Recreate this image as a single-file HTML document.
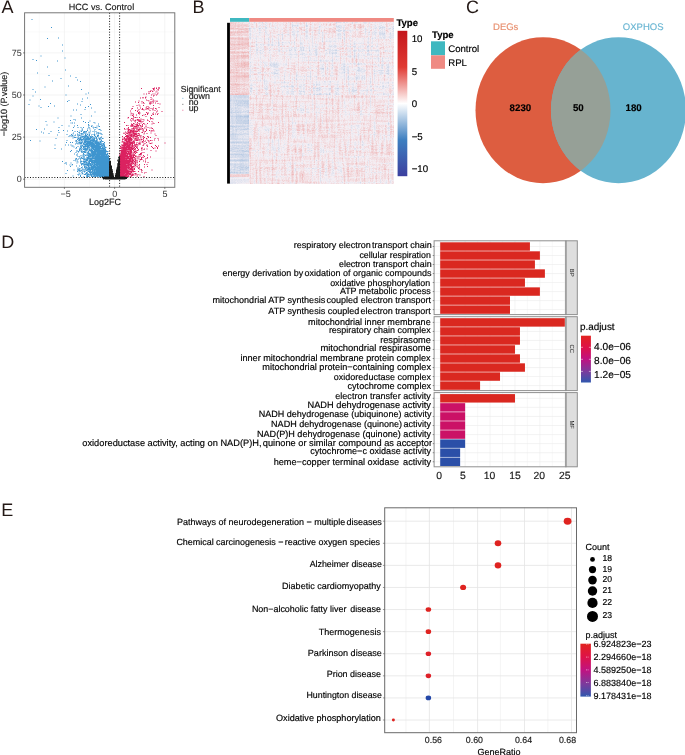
<!DOCTYPE html>
<html><head><meta charset="utf-8"><title>Figure</title><style>html,body{margin:0;padding:0;background:#fff}svg{display:block}</style></head><body>
<svg width="685" height="755" viewBox="0 0 685 755" text-rendering="geometricPrecision" font-family='"Liberation Sans", Arial, sans-serif'>
<rect width="685" height="755" fill="#fff"/>
<defs>
<linearGradient id="hmbar" x1="0" y1="0" x2="0" y2="1">
<stop offset="0" stop-color="#c4161c"/><stop offset="0.25" stop-color="#e03a33"/><stop offset="0.5" stop-color="#ffffff"/><stop offset="0.75" stop-color="#3d7fc0"/><stop offset="1" stop-color="#3c3f9f"/>
</linearGradient>
<linearGradient id="padj" x1="0" y1="0" x2="0" y2="1">
<stop offset="0" stop-color="#e2231f"/><stop offset="0.25" stop-color="#de1248"/><stop offset="0.5" stop-color="#c01281"/><stop offset="0.76" stop-color="#7c3a9c"/><stop offset="1" stop-color="#2f57ae"/>
</linearGradient>
</defs>
<text x="1.50" y="12.60" font-size="18" fill="#231815">A</text>
<text x="192.40" y="12.50" font-size="18" fill="#231815">B</text>
<text x="465.90" y="12.70" font-size="18" fill="#231815">C</text>
<text x="1.20" y="248.40" font-size="18" fill="#231815">D</text>
<text x="1.20" y="516.00" font-size="18" fill="#231815">E</text>
<g id="volcano">
<path d="M39.30 12.8V187.3M89.50 12.8V187.3M139.70 12.8V187.3M24.6 158.15H175.1M24.6 116.05H175.1M24.6 73.95H175.1M24.6 31.85H175.1" stroke="#f2f2f2" stroke-width="0.4" fill="none"/>
<path d="M64.40 12.8V187.3M114.60 12.8V187.3M164.80 12.8V187.3M24.6 179.20H175.1M24.6 137.10H175.1M24.6 95.00H175.1M24.6 52.90H175.1" stroke="#ebebeb" stroke-width="0.6" fill="none"/>
<path d="M78.5 173h1M86 173h2M91 173h19M77 171.5h1M79.5 171.5h1M82.5 171.5h1M84 171.5h1.5M88 171.5h2.5M91.5 171.5h1.5M94 171.5h1.5M96 171.5h14M81.5 172.5h1M86 172.5h1.5M89 172.5h3M92.5 172.5h17.5M79.5 168.5h1M85.5 168.5h1M88 168.5h2M90.5 168.5h3.5M94.5 168.5h15.5M75 144h1M77.5 144h1M79.5 144h1M81.5 144h1M83 144h2.5M87.5 144h2.5M90.5 144h3M94 144h1M95.5 144h3.5M99.5 144h3M73.5 147h1M80 147h2M84 147h2M87.5 147h3M91 147h10.5M104 147h1.5M73.5 170h1M78 170h2.5M82 170h4M88.5 170h1.5M91.5 170h18.5M83.5 154.5h1M87.5 154.5h1M89 154.5h2M91.5 154.5h16.5M76.5 143.5h1M79.5 143.5h2.5M83 143.5h1.5M85.5 143.5h8.5M94.5 143.5h6M101.5 143.5h1M103 143.5h1M77 171h1.5M79.5 171h1M87 171h2M89.5 171h1.5M92 171h18M64.5 163.5h1M81.5 163.5h2M85.5 163.5h1M87.5 163.5h3.5M92.5 163.5h1M94 163.5h1.5M96 163.5h14M86.5 153h3M91 153h15M106.5 153h1M81 167.5h1M84 167.5h1M85.5 167.5h1.5M87.5 167.5h1M89 167.5h1.5M91 167.5h19M75.5 161h1M77 161h1M80.5 161h1M85.5 161h1M87.5 161h1M89 161h3.5M93 161h17M78 175h1M89 175h1M90.5 175h3.5M94.5 175h1M96 175h1M97.5 175h12.5M75 160h1M80 160h1M85.5 160h1M87 160h1M88.5 160h1M90.5 160h1.5M94 160h15.5M80 139h1M83 139h4.5M88 139h5.5M94 139h1M96.5 139h1M75 159h1M78 159h1M80 159h1M83 159h1M84.5 159h2.5M89 159h1.5M91 159h5M96.5 159h12.5M78 152h1M81.5 152h5M87.5 152h1.5M90.5 152h3.5M94.5 152h1M96.5 152h6M103 152h3M76 158.5h1M79.5 158.5h1M81.5 158.5h1.5M83.5 158.5h1M87 158.5h23M77.5 168h1M85 168h1.5M87 168h2M90 168h4.5M95 168h15M81 158h1M83.5 158h1M86.5 158h1M88.5 158h3M92 158h3M95.5 158h13.5M76 166h1M79 166h1M84 166h2M86.5 166h1M90.5 166h2M93.5 166h2M96.5 166h13.5M71 150.5h1M79 150.5h1M85.5 150.5h1M89 150.5h4M94 150.5h12.5M80 176.5h1M87 176.5h2.5M91 176.5h1M92.5 176.5h1.5M94.5 176.5h2M97 176.5h1M98.5 176.5h11.5M83.5 165.5h1M87 165.5h2.5M90 165.5h2M93 165.5h2M95.5 165.5h2.5M98.5 165.5h11.5M79 157h1M80.5 157h1M82.5 157h2.5M88 157h2.5M92.5 157h16.5M82 167h1M88.5 167h1.5M90.5 167h2M93.5 167h16.5M67 170.5h1M78.5 170.5h1.5M80.5 170.5h1.5M86 170.5h1.5M89.5 170.5h1.5M92 170.5h1M93.5 170.5h2M96 170.5h14M54.5 148.5h1M75.5 148.5h1M80 148.5h1M82.5 148.5h1M84.5 148.5h1.5M86.5 148.5h1.5M91.5 148.5h2.5M95 148.5h10.5M62 161.5h1M80.5 161.5h1.5M82.5 161.5h4M88.5 161.5h5M94 161.5h16M80 175.5h1M86.5 175.5h2M90.5 175.5h1.5M93.5 175.5h1.5M95.5 175.5h14.5M69.5 165h1M71.5 165h1M81 165h1M86 165h4M90.5 165h2.5M93.5 165h16.5M73.5 160.5h1M83.5 160.5h1M85.5 160.5h2.5M89 160.5h21M65.5 162.5h1M83.5 162.5h1.5M85.5 162.5h2M88.5 162.5h1.5M91 162.5h18.5M79 174h1M80.5 174h1M82.5 174h1M85 174h4.5M90 174h1M92 174h1.5M94 174h16M76.5 159.5h1M83.5 159.5h2M86 159.5h2.5M89.5 159.5h3M95 159.5h15M77.5 169.5h1M86.5 169.5h6.5M93.5 169.5h16.5M76.5 143h1M78 143h1M79.5 143h1M83 143h1M86 143h4.5M91 143h1M92.5 143h2M95 143h3.5M104 143h1M70.5 163h1M76.5 163h1M80 163h1.5M83.5 163h1M85.5 163h2M88.5 163h1.5M91 163h4M96 163h14M39.5 141h1M75 141h1M81 141h2.5M84.5 141h2M87 141h2.5M90 141h1M91.5 141h6.5M54.5 145h1M65 145h1M68 145h1M70.5 145h1M80.5 145h1M83.5 145h2M86 145h1M87.5 145h1.5M89.5 145h1.5M91.5 145h8.5M100.5 145h1.5M104 145h1M70 166.5h1M84 166.5h1M85.5 166.5h1M88 166.5h1M91 166.5h5M96.5 166.5h13.5M81.5 172h1M84 172h1M90 172h20M70.5 123h1M72 123h1M74 123h1M94.5 123h1M77.5 169h1M79 169h1M81.5 169h2M84.5 169h1.5M86.5 169h1.5M89.5 169h1M91.5 169h18.5M61 149h1M79 149h1M81 149h1M83.5 149h1.5M86 149h2.5M89.5 149h1.5M91.5 149h9.5M101.5 149h1.5M103.5 149h1.5M74 154h1M77 154h1M83 154h1M88.5 154h5M94 154h3.5M98 154h8M107 154h1M76 151h2M79.5 151h1M81.5 151h1M84.5 151h2M88.5 151h1M91 151h2.5M94.5 151h2M97 151h9M76 155h1M82.5 155h2M85.5 155h9M95 155h12.5M66 164h1M81 164h1.5M83 164h2M86.5 164h1.5M88.5 164h1M91 164h2M93.5 164h16.5M77.5 146.5h1M80.5 146.5h1M83 146.5h6M90.5 146.5h10.5M101.5 146.5h1M103.5 146.5h1.5M77.5 174.5h1M84 174.5h2M87 174.5h2M89.5 174.5h2.5M92.5 174.5h17.5M65.5 173.5h1M82 173.5h1M85.5 173.5h1.5M90 173.5h1M92 173.5h18M79.5 148h1M84 148h1M85.5 148h1M88 148h2M91 148h7.5M99 148h2M102 148h2.5M30 140.5h1M66.5 140.5h1M76 140.5h1M78.5 140.5h2M81 140.5h1M84.5 140.5h2M90 140.5h5M95.5 140.5h1.5M101 140.5h1M77.5 162h1M80 162h1M84.5 162h1M88 162h2M91 162h6.5M98 162h12M78.5 156.5h1M88 156.5h3.5M92 156.5h2.5M95 156.5h13.5M80.5 150h2M84.5 150h4M89 150h1M91 150h1.5M93.5 150h9M103 150h2.5M81.5 145.5h1.5M85 145.5h1M86.5 145.5h3.5M90.5 145.5h9M101.5 145.5h2M104 145.5h1M72 164.5h1M81 164.5h1M82.5 164.5h1M84 164.5h5.5M90 164.5h1M91.5 164.5h2M94 164.5h16M76 147.5h1M81 147.5h1M83 147.5h1M87 147.5h1M88.5 147.5h1M91.5 147.5h9.5M102 147.5h1.5M104.5 147.5h2M72.5 176h1M86 176h1M94.5 176h4M99.5 176h10.5M75.5 152.5h1M81.5 152.5h1M84 152.5h2M87.5 152.5h1M91 152.5h5M96.5 152.5h9.5M83 177h1.5M86 177h1M92 177h1M94 177h1M99 177h1M102 177h8M83.5 144.5h4.5M88.5 144.5h6.5M96 144.5h5.5M102.5 144.5h2M81 157.5h1M86.5 157.5h2.5M91.5 157.5h2M94.5 157.5h14.5M80.5 155.5h1M85 155.5h1M87.5 155.5h2M90 155.5h5.5M96 155.5h4.5M101 155.5h4.5M106 155.5h1M108 155.5h1M48.5 133.5h1M80.5 133.5h2M98.5 133.5h1M100.5 133.5h1M70 151.5h1M78 151.5h1M81 151.5h1M83 151.5h2M88 151.5h1M90.5 151.5h18M79 149.5h1M80.5 149.5h1M83 149.5h4.5M89 149.5h1M90.5 149.5h1.5M93 149.5h7M101.5 149.5h1M103 149.5h1.5M105 149.5h1M66 142.5h1M70 142.5h1M72 142.5h1M79 142.5h1.5M81 142.5h1.5M84 142.5h2.5M87 142.5h6M94.5 142.5h5M100 142.5h1M104 142.5h1M78 140h1M81.5 140h1M83.5 140h6.5M92 140h3M96.5 140h1M99.5 140h1M58.5 132.5h1M78.5 132.5h1.5M83 132.5h1.5M97.5 132.5h1M58 130.5h1M63 130.5h1M72 130.5h1M81.5 130.5h1M87 130.5h1M100.5 130.5h1M83 153.5h1M87.5 153.5h2.5M90.5 153.5h1M92 153.5h4M96.5 153.5h9.5M107 153.5h1.5M69.5 135.5h1M72 135.5h1M74.5 135.5h1M78.5 135.5h2M85 135.5h2M89 135.5h1M94 135.5h1M97 135.5h2M76 142h1M78.5 142h2.5M82 142h1M84.5 142h1M87.5 142h4M92 142h3.5M97.5 142h4.5M73.5 137h1M78 137h1M81 137h1M82.5 137h1M84 137h5M90.5 137h1.5M93.5 137h1M95 137h1.5M98 137h1M101 137h1M57 135h1M75 135h1M77 135h1M80.5 135h2M85 135h1M87.5 135h1M91 135h1M94.5 135h1M76.5 141.5h1M84 141.5h7M91.5 141.5h1M93 141.5h1M94.5 141.5h3M100 141.5h1M101.5 141.5h2M74 137.5h2M76.5 137.5h1M80 137.5h1M81.5 137.5h1M84 137.5h1M85.5 137.5h1M87 137.5h2M90 137.5h2M92.5 137.5h1M96 137.5h1M100.5 137.5h1M77 156h1M82.5 156h2M86.5 156h1M89 156h1M90.5 156h18.5M71.5 146h2M80 146h1M81.5 146h1.5M85.5 146h1M89.5 146h2M92 146h2M95.5 146h5M101 146h3.5M68.5 136.5h1M80.5 136.5h1M82 136.5h2.5M85 136.5h1.5M87 136.5h1M90 136.5h1M91.5 136.5h1.5M95 136.5h1M97 136.5h1M66.5 134.5h1M71 134.5h1M78.5 134.5h1M85 134.5h1M87 134.5h1M89 134.5h1M92.5 134.5h1M94 134.5h1M101.5 134.5h1M55.5 138.5h1M77.5 138.5h1.5M79.5 138.5h2M83 138.5h1M84.5 138.5h1M86 138.5h5M92.5 138.5h1M94 138.5h1.5M96 138.5h1M98.5 138.5h2M102 138.5h1.5M72.5 138h1M78.5 138h2M82.5 138h1.5M84.5 138h1.5M88 138h2.5M92.5 138h1M94 138h1M99.5 138h2M41 132h1M83.5 132h1M85 132h1.5M88.5 132h1M43 133h1M73 133h1M79 133h1M84 133h1M85.5 133h1M88.5 133h2M94 133h1M96 133h1.5M98 133h1M99.5 133h1M77 139.5h1M79 139.5h4.5M84.5 139.5h6M91.5 139.5h1M93 139.5h2M96.5 139.5h1M99 139.5h1M100.5 139.5h1M72.5 134h1M77 134h1M81 134h3M85 134h1M86.5 134h1M96.5 134h1M98 134h1M100.5 134h1M50.5 131.5h1M74.5 131.5h1M77 131.5h1M81 131.5h1M83.5 131.5h1.5M85.5 131.5h1.5M92.5 131.5h1M95.5 131.5h1M70.5 136h3M77.5 136h1M83.5 136h2M86 136h1M88.5 136h1.5M97 136h1M61.5 125.5h1M77 125.5h1M88.5 125.5h1M91.5 125.5h1M67 131h1M79.5 131h1M90 131h1M94 131h1M44 129h1M81.5 129h1.5M87 129h1M89.5 129h1M58.5 127.5h1M73 127.5h1M77.5 127.5h1M80.5 127.5h1M83 127.5h1M88.5 127.5h1M94.5 127.5h2M82 130h1M68.5 126h1M74 126h1M88 126h1M96.5 126h1M98 126h1M46.5 125h1M85 122.5h1M88 122.5h1M93.5 122.5h1M62 45h1M67 101.5h1M81.5 101.5h1M65 70h1M47 38.5h1M64.5 58h1M40.5 107.5h1M85 107.5h1M47 67h1M32.5 89.5h1M81 89.5h1M38.5 106h1M54 106h1M32.5 96h1M40.5 56h1M62 51h1M82 99h1M36 60.5h1M45.5 121.5h1M83 121.5h1M37 73h1M32.5 59.5h1M87 98h1M80 105h1M51 27.5h1M28.5 104.5h1M90 104.5h1M65.5 95h1M52 81h1M73 110h1M76 110h1M77 80h1M68 86h1M31.5 19.5h1M57 61h1M58 38h1M60.5 78.5h1M44.5 87h1M80 81.5h1M40 99.5h1M88 124.5h1M70.5 116h1M91 116h1M75.5 77.5h1M35 92h1M91 108h1M77 104h1M48.5 75.5h1M70 120.5h1M85.5 94h1M36 129.5h1M94.5 129.5h1M98.5 129.5h2M75 120h1M88 93h1M53.5 122h1M57.5 118h1M81 118h1M68.5 100.5h1M88.5 128h1M93 128h1M96.5 128h1M91 126.5h1M99 126.5h1M80.5 114.5h1M73.5 119.5h1M70 76h1M98 124h1M29.5 100h1M92.5 127h1M84.5 109.5h1M48 106.5h1M88 106.5h1M94.5 112h1M50 103.5h1M89.5 121h1" stroke="#3f95cf" stroke-width="1" fill="none"/>
<path d="M119 167.5h11M131 167.5h2M119.5 155h8M129 155h6M138.5 155h1M140.5 155h1M147 155h1M119 159h8.5M129 159h1.5M132 159h1.5M135 159h1M138.5 159h1M145 159h1M120 156.5h12M133 156.5h1M135 156.5h1.5M137.5 156.5h1M139.5 156.5h1M144 156.5h1M119 168.5h8M127.5 168.5h2M130 168.5h2M134 168.5h1M138 168.5h1M121.5 147.5h10.5M132.5 147.5h1M134 147.5h1M136 147.5h1.5M152 147.5h1M157 147.5h1M119 162h10.5M130 162h2.5M133 162h1M137 162h1M145 162h1M122 151h5.5M129 151h1.5M131 151h1M136 151h1M155.5 151h1M119 172h10M129.5 172h2M132.5 172h1M121 153.5h10M135 153.5h1M140 153.5h2M119 170.5h9.5M132 170.5h1.5M141.5 170.5h1M119.5 167h9M130.5 167h3.5M134.5 167h1M137 167h1M139 167h1M144 167h1M119 165h11.5M131 165h1M133.5 165h2.5M136.5 165h1M119 170h13M132.5 170h1M151.5 170h1M120 160.5h11M132 160.5h2M135 160.5h1M136.5 160.5h1M121.5 149h6M128 149h1M129.5 149h2.5M133 149h1M134.5 149h1M144 149h1M146.5 149h1M119.5 163h11M131.5 163h1.5M133.5 163h2M122.5 149.5h8.5M131.5 149.5h1.5M134 149.5h1M138 149.5h1M143.5 149.5h1M119.5 157h10.5M130.5 157h2M138.5 157h1M142.5 157h1M150 157h1M119 176h10M129.5 176h1M136.5 176h1.5M119 169.5h8.5M129.5 169.5h3.5M134 169.5h1M139.5 169.5h1M141 169.5h1M119 166.5h8.5M128 166.5h1.5M130.5 166.5h4M136.5 166.5h1M147 166.5h1M119 174h10M129.5 174h2M132 174h1.5M135 174h2M119 163.5h10.5M130.5 163.5h2M133 163.5h1M135 163.5h1M119.5 150.5h7M127.5 150.5h1M130 150.5h2M133 150.5h1M137 150.5h1.5M150.5 150.5h1M119 177h8M130.5 177h1M130 131.5h1M131.5 131.5h3M135 131.5h3M144.5 131.5h1.5M120.5 154.5h5.5M127 154.5h1M128.5 154.5h2.5M133.5 154.5h1M139 154.5h2.5M119 161.5h14M134 161.5h1M135.5 161.5h1M139 161.5h1M119.5 154h11M131 154h1.5M133.5 154h1M121 148h5M126.5 148h1M128 148h3.5M133.5 148h1M141 148h2M154.5 148h1M119 166h9M129 166h2M120.5 152h6.5M128 152h3M132.5 152h1M121 150h6.5M128.5 150h3.5M134.5 150h1.5M141 150h1.5M131 118.5h1M132.5 118.5h1M150.5 118.5h2M119 172.5h10M131 172.5h1M141.5 172.5h1M145.5 172.5h1M119.5 171h8.5M128.5 171h1M131.5 171h1.5M141 171h1M122 145.5h4.5M127 145.5h3.5M131.5 145.5h2M134.5 145.5h1M142.5 145.5h1M146.5 145.5h1M155 145.5h1M119.5 158h8M128 158h1.5M130 158h1M131.5 158h1.5M135.5 158h1M137 158h1.5M119.5 158.5h13.5M134.5 158.5h1M141 158.5h1M146.5 158.5h1M119 156h9.5M129.5 156h1M131 156h2.5M135.5 156h1M123.5 142.5h2M126.5 142.5h2M129 142.5h4.5M134 142.5h1M136.5 142.5h1M142.5 142.5h1M146 142.5h1M119 175h8M128 175h1M131 175h1.5M133 175h1M134.5 175h1M139.5 175h1M119 174.5h5.5M125 174.5h3M129 174.5h2M132 174.5h1.5M137.5 174.5h1M123.5 133.5h1M126.5 133.5h1.5M129.5 133.5h1M132.5 133.5h4M137.5 133.5h1.5M146.5 133.5h1M122 139.5h1.5M124.5 139.5h3M128 139.5h4.5M135.5 139.5h1M138.5 139.5h1M141 139.5h1M142.5 139.5h1M119 173h6.5M126.5 173h5M144 173h1M122.5 141.5h1M126 141.5h4.5M133 141.5h1.5M142 141.5h1M143.5 141.5h1M120 147h2M122.5 147h4.5M128 147h1.5M132 147h1M136.5 147h1M119 175.5h8M127.5 175.5h1M131 175.5h2M119.5 159.5h6M126 159.5h1.5M128.5 159.5h2.5M131.5 159.5h1.5M134.5 159.5h1M140 159.5h2.5M119.5 153h1M121.5 153h8M130.5 153h2M133 153h1M135 153h1M119 165.5h10M129.5 165.5h2.5M135 165.5h1M138.5 165.5h1M119 173.5h6M125.5 173.5h5.5M134.5 173.5h1.5M124.5 140h1M126.5 140h1M128.5 140h3.5M134.5 140h1M137 140h1M139 140h1M140.5 140h1M154 140h1M158 140h1M137 119.5h1.5M142.5 119.5h1M119 160h8.5M128.5 160h2M131 160h1M132.5 160h1.5M134.5 160h1M136.5 160h1M139.5 160h1M121 152.5h6M128 152.5h1M129.5 152.5h2.5M134 152.5h1M136 152.5h1.5M141.5 152.5h1M143.5 152.5h1M119 176.5h10M130.5 176.5h1M143.5 176.5h1M119 171.5h13M132.5 171.5h3M138 171.5h1M119.5 169h7.5M128.5 169h5.5M120 146.5h1M123.5 146.5h1.5M126 146.5h4.5M131.5 146.5h2M135 146.5h1M136.5 146.5h1M147 146.5h1M151 146.5h1M156 146.5h1M128 132.5h3.5M132.5 132.5h1.5M141.5 132.5h1.5M119 162.5h11M131.5 162.5h1.5M135 162.5h1M136.5 162.5h1M147.5 162.5h1M125 132h1M127 132h2M129.5 132h3.5M134 132h1.5M119 164h9M128.5 164h3M136.5 164h1M124 138.5h1M125.5 138.5h1M127.5 138.5h4.5M135 138.5h1M143 138.5h1M146 138.5h1M154.5 138.5h1M157.5 138.5h1M138.5 109.5h1M141.5 109.5h2M145.5 109.5h1M119 164.5h7M127.5 164.5h3.5M131.5 164.5h1M134.5 164.5h1M139 164.5h1M144 164.5h1M146.5 164.5h1M119.5 168h10M130.5 168h2.5M138 168h2M127 137h4M132 137h2M135.5 137h1M140 137h1M141.5 137h1M123 143h8M132.5 143h2.5M138.5 143h2M151.5 143h1M164.5 143h1M130 126h4M137 126h2M140 126h1.5M142 126h1M119.5 155.5h8.5M129.5 155.5h2.5M133 155.5h2.5M143 155.5h1M123.5 143.5h5M129.5 143.5h4M138.5 143.5h2M144.5 143.5h1M149.5 143.5h2M127.5 135h1M129 135h6M135.5 135h1M137.5 135h1M139 135h1M120 148.5h1.5M122.5 148.5h4.5M127.5 148.5h3M131 148.5h3M135 148.5h1M137 148.5h1M141 148.5h1M153 148.5h1M157 148.5h1M127 136h2.5M130 136h2M133 136h2.5M137 136h1M139.5 136h1M122.5 139h1M125.5 139h7M134 139h1M135.5 139h3M140.5 139h1M146.5 139h1M126 135.5h2M128.5 135.5h1M130 135.5h2M132.5 135.5h2.5M136.5 135.5h3M140.5 135.5h1M155.5 135.5h1M126 125.5h1M127.5 125.5h1M131.5 125.5h1.5M136.5 125.5h2.5M140 125.5h1M121.5 142h2M124 142h1M125.5 142h1.5M128 142h1.5M132 142h1M133.5 142h1.5M139.5 142h1M141.5 142h1M148.5 142h1M122 146h7M130.5 146h2.5M133.5 146h2M158 146h1M119.5 161h10M130.5 161h3M135 161h1M143 161h1M145 161h1M122.5 138h1M126 138h2M128.5 138h3M133 138h1M134.5 138h1M136 138h1.5M138 138h1M123.5 144.5h4.5M128.5 144.5h3M132 144.5h1M134.5 144.5h1M136 144.5h1.5M139.5 144.5h1M124.5 140.5h2.5M127.5 140.5h2.5M130.5 140.5h1.5M134.5 140.5h1M136 140.5h2.5M143 140.5h1M147.5 140.5h1M150 140.5h1M151.5 140.5h1M121 151.5h5.5M127 151.5h2.5M130 151.5h2M134 151.5h2M126.5 129h2.5M132 129h1.5M134 129h1M136.5 129h1M139.5 129h2.5M142.5 129h1M122 136.5h1M125 136.5h4M131 136.5h1M132.5 136.5h1M134.5 136.5h3M143 136.5h1M147 136.5h1.5M131 130h1M133 130h2M136 130h1M142.5 130h1.5M153 130h1M122 141h1M125.5 141h1.5M128 141h4M132.5 141h1.5M145 141h1M148 141h1.5M128 128h1M133 128h1M135.5 128h1M137 128h1M138.5 128h2M144 128h1M145.5 128h1M149.5 128h1M151 128h1M124 137.5h1M127 137.5h1.5M129 137.5h2M137.5 137.5h1M143.5 137.5h1.5M148 137.5h1M150 137.5h1M119.5 157.5h6M126.5 157.5h2.5M130 157.5h5M141 157.5h1M142.5 157.5h1M147 157.5h1M127.5 131h3M131 131h2M134 131h2M137 131h1M138.5 131h1.5M142.5 131h1.5M150.5 131h2M153.5 131h1M130 120h1M132.5 120h1.5M135.5 120h1M137.5 120h2.5M140.5 120h1M143.5 120h1M147 120h1M121 145h4M125.5 145h5M132 145h1M134.5 145h4M143 145h1M146.5 145h1M123.5 144h7M134 144h1M136 144h1M138.5 144h1M143.5 144h1M123.5 133h1M125.5 133h1.5M128.5 133h2M132.5 133h1M134.5 133h1M136 133h1M144 133h1M150.5 133h1M149.5 104h1.5M159.5 104h1M131.5 126.5h1M134 126.5h3M142 126.5h1M145.5 126.5h1M124.5 129.5h1M128 129.5h2.5M137.5 129.5h3M146 129.5h1M131 121h1M134 121h1M138 121h3M135 127h2M137.5 127h1M141 127h1M128 134h1M129.5 134h1M131 134h1M134 134h1M135.5 134h1M139 134h1M143.5 134h1M154.5 134h1M135 122h1M141.5 122h1M131.5 124.5h1.5M135.5 124.5h1M137 124.5h1M142 124.5h1M125 134.5h1M129.5 134.5h1M131 134.5h1.5M133.5 134.5h3.5M145 114.5h1M147 114.5h1M153 114.5h1M157 114.5h1M130.5 113h1M139 113h1.5M147.5 113h1.5M153 113h1M128 130.5h1M130 130.5h2M132.5 130.5h1.5M138 130.5h1M146 130.5h1M149 130.5h1M151.5 130.5h1M140.5 123h1M152.5 123h1M139 121.5h2.5M142.5 121.5h1M149 121.5h1M151.5 121.5h1M137 108h1M140 108h1M145.5 108h1M153 108h1M131 109h1M147.5 109h2M152 109h1.5M156 109h1M135 120.5h1M137.5 120.5h1M139.5 120.5h1M147.5 120.5h1M124 122.5h1M137 122.5h1M158 122.5h1M133 123.5h1.5M138.5 123.5h1M143 123.5h1M147 123.5h1M153.5 123.5h1M130.5 115h1M132.5 115h1.5M136 115h1M143.5 115h1M131 125h1M133.5 125h1M135.5 125h1.5M139 125h1M142 125h1M145.5 125h1M131 124h1M136.5 124h1.5M139 124h1M144 124h1M151.5 124h1M128 117.5h1M133.5 117.5h1M135 117.5h1M136.5 117.5h1M139 117.5h1M150 117.5h1M128 127.5h1M133.5 127.5h1M147.5 127.5h1M132.5 119h1M140.5 119h1M150 119h1M152.5 119h1M124 128.5h1M131.5 128.5h1M133 128.5h1.5M135.5 128.5h1M142 128.5h1M152 128.5h1M132 115.5h1M142 115.5h1M151 115.5h1M133 116.5h1M145.5 116.5h1M137 111.5h1M161.5 111.5h1M143.5 103.5h1M149.5 103.5h1M157.5 103.5h1M127.5 118h1M132 108.5h1M142 108.5h1M146.5 108.5h2M150.5 108.5h1M155 108.5h1M141.5 103h1M149 103h3M152.5 103h1M155 103h1M138 112.5h1M146 112.5h1M143.5 94h1M146 94h1M152.5 94h1M154.5 94h1M157 94h1M153 89h1M151.5 99h1M141.5 101.5h1M151.5 101.5h1M156.5 101.5h1M152.5 91h1M156.5 91h1M142.5 97.5h1M145 97.5h1M150.5 97.5h1M145.5 97h1M148.5 91.5h1M150 91.5h1M152 91.5h1M140 98h1M142.5 98h1M145 98h1M139.5 106h1M135 102h1M150 102h1M153 102h1M155.5 92h1M135 110.5h1M137.5 110.5h1M149.5 110.5h1M154.5 110.5h1M150.5 90.5h1M138.5 105h1M132.5 106.5h1M147.5 106.5h1M136.5 105.5h1M143 105.5h1M153 105.5h1M153.5 95.5h1M131.5 113.5h1M138 113.5h1M147 113.5h1M157.5 113.5h1M141 88.5h1M152.5 88.5h2M156 88.5h1M158.5 88.5h1M146 107h1M154 90h1M158 90h1M138 102.5h1M143 102.5h1M153 89.5h1M157.5 89.5h1M151 95h1M156 95h1M154 88h1M156 88h1M158.5 88h1M139 112h1M156 112h1M133 114h1M139 114h1M152 114h1M155 114h1M138.5 101h1M148.5 101h1M152.5 101h1M154.5 101h1M156.5 101h1M143.5 110h1M152.5 110h1M148.5 107.5h1M158.5 107.5h1M148.5 93h1M157.5 93h1M146 100h1M153 100h1M148.5 93.5h1M150.5 99.5h1M147.5 100.5h1M130 111h1M157 111h1M158.5 87.5h1M153 96h1" stroke="#db2260" stroke-width="1" fill="none"/>
<path d="M103 179h1.5M105 179h20.5M102 177h1M104 177h10M115 177h10.5M109 172.5h3.5M116 172.5h4M109 175.5h4.5M115 175.5h5M109 176h5M115.5 176h4.5M103 178.5h24M109 176.5h5M115 176.5h5M102 177.5h12.5M115 177.5h12M109 171h3.5M116.5 171h3.5M102.5 178h23M126 178h1M109 169.5h3.5M116.5 169.5h3.5M109 171.5h4M116 171.5h4M109 174.5h4.5M115.5 174.5h4.5M109 175h4.5M115.5 175h4.5M109 173.5h4.5M115.5 173.5h4.5M109 169h3M116.5 169h3.5M109 174h4M115.5 174h4.5M109 167h3M117 167h3M109 170h3.5M116.5 170h3.5M109 168h2.5M116.5 168h3.5M109 172h4M116 172h4M109 167.5h3M117 167.5h3M109 170.5h3.5M116 170.5h4M109 168.5h3M117 168.5h3M109 173h4M116 173h4M109 166h2M117.5 166h2.5M109 163.5h2M117.5 163.5h2.5M109.5 161h1M117.5 161h2M109 164h1.5M117.5 164h2.5M109 166.5h3M117.5 166.5h2.5M110 162h1M118.5 162h1.5M109 165.5h2.5M117.5 165.5h2M109.5 161.5h1.5M118 161.5h2M109 165h1.5M117.5 165h2.5M109 162.5h2M118 162.5h1.5M109.5 164.5h1.5M117.5 164.5h2.5M109 163h2M118 163h2M109.5 158.5h1M119 158.5h1M119 159h1M118.5 157h1M117.5 160h2M117.5 160.5h1M119 160.5h1M118 158h2M118.5 159.5h1.5M118.5 157.5h1.5" stroke="#1a1a1a" stroke-width="1" fill="none"/>
<path d="M109.58 12.8V187.3M119.62 12.8V187.3M24.6 177.5H175.1" stroke="#111" stroke-width="1" stroke-dasharray="1 1.7" fill="none"/>
<rect x="24.6" y="12.8" width="150.2" height="174.5" fill="none" stroke="#707070" stroke-width="0.95"/>
<path d="M64.40 187.3v1.6M114.60 187.3v1.6M164.80 187.3v1.6M24.6 179.20h-1.6M24.6 137.10h-1.6M24.6 95.00h-1.6M24.6 52.90h-1.6" stroke="#333" stroke-width="0.6" fill="none"/>
<text x="65.60" y="197.00" font-size="9" text-anchor="middle" fill="#333">−5</text>
<text x="114.80" y="197.00" font-size="9" text-anchor="middle" fill="#333">0</text>
<text x="165.00" y="197.00" font-size="9" text-anchor="middle" fill="#333">5</text>
<text x="21.80" y="182.40" font-size="9" text-anchor="end" fill="#333">0</text>
<text x="21.80" y="140.30" font-size="9" text-anchor="end" fill="#333">25</text>
<text x="21.80" y="98.20" font-size="9" text-anchor="end" fill="#333">50</text>
<text x="21.80" y="56.10" font-size="9" text-anchor="end" fill="#333">75</text>
<text x="68.80" y="10.40" font-size="9.05" fill="#1a1a1a" stroke="#1a1a1a" stroke-width="0.16">HCC vs. Control</text>
<text x="105.00" y="204.90" font-size="9" text-anchor="middle" fill="#1a1a1a" stroke="#1a1a1a" stroke-width="0.16">Log2FC</text>
<text x="7.30" y="104.00" font-size="9" text-anchor="middle" fill="#1a1a1a" stroke="#1a1a1a" stroke-width="0.16" transform="rotate(-90 7.30 104.00)">−log10 (P.value)</text>
<text x="180.70" y="92.00" font-size="8.69" fill="#1a1a1a" stroke="#1a1a1a" stroke-width="0.16">Significant</text>
<rect x="182.4" y="97.85" width="0.9" height="0.9" fill="#3f95cf" opacity="0.8"/>
<text x="188.70" y="99.45" font-size="8.9" fill="#1a1a1a" stroke="#1a1a1a" stroke-width="0.16">down</text>
<rect x="182.4" y="103.85" width="0.9" height="0.9" fill="#1a1a1a" opacity="0.8"/>
<text x="188.70" y="105.10" font-size="8.9" fill="#1a1a1a" stroke="#1a1a1a" stroke-width="0.16">no</text>
<rect x="182.4" y="109.75" width="0.9" height="0.9" fill="#db2260" opacity="0.8"/>
<text x="188.70" y="111.30" font-size="8.9" fill="#1a1a1a" stroke="#1a1a1a" stroke-width="0.16">up</text>
</g>
<g id="heatmap">
<defs>
<filter id="h1" x="0" y="0" width="100%" height="100%" color-interpolation-filters="sRGB">
<feTurbulence type="fractalNoise" baseFrequency="0.03 0.5" numOctaves="1" seed="3"/>
<feColorMatrix type="matrix" values="1 0 0 0 0  1 0 0 0 0  1 0 0 0 0  0 0 0 0 1" result="a"/>
<feTurbulence type="fractalNoise" baseFrequency="0.85 0.95" numOctaves="1" seed="23"/>
<feColorMatrix type="matrix" values="1 0 0 0 0  1 0 0 0 0  1 0 0 0 0  0 0 0 0 1" result="b"/>
<feTurbulence type="fractalNoise" baseFrequency="0.5 0.04" numOctaves="1" seed="43"/>
<feColorMatrix type="matrix" values="1 0 0 0 0  1 0 0 0 0  1 0 0 0 0  0 0 0 0 1" result="c"/>
<feComposite in="a" in2="b" operator="arithmetic" k1="0" k2="0.85" k3="0.5" k4="-0.175" result="ab"/>
<feComposite in="ab" in2="c" operator="arithmetic" k1="0" k2="1" k3="0.3" k4="-0.15"/>
<feComponentTransfer><feFuncR type="table" tableValues="0.879 0.892 0.904 0.917 0.929 0.942 0.954 0.960 0.959 0.957 0.956 0.954 0.953 0.952 0.950 0.949 0.947 0.946 0.944 0.943 0.942 0.940 0.939 0.937 0.936 0.935 0.933 0.932 0.930 0.929 0.927 0.926 0.925"/><feFuncG type="table" tableValues="0.891 0.899 0.907 0.914 0.922 0.929 0.937 0.935 0.923 0.911 0.898 0.886 0.874 0.861 0.849 0.837 0.824 0.812 0.800 0.787 0.775 0.763 0.750 0.738 0.726 0.713 0.701 0.689 0.676 0.664 0.652 0.639 0.627"/><feFuncB type="table" tableValues="0.937 0.941 0.945 0.948 0.952 0.955 0.959 0.955 0.941 0.928 0.915 0.902 0.889 0.876 0.863 0.849 0.836 0.823 0.810 0.797 0.784 0.771 0.757 0.744 0.731 0.718 0.705 0.692 0.679 0.665 0.652 0.639 0.626"/></feComponentTransfer>
</filter>
<filter id="h2" x="0" y="0" width="100%" height="100%" color-interpolation-filters="sRGB">
<feTurbulence type="fractalNoise" baseFrequency="0.03 0.5" numOctaves="1" seed="4"/>
<feColorMatrix type="matrix" values="1 0 0 0 0  1 0 0 0 0  1 0 0 0 0  0 0 0 0 1" result="a"/>
<feTurbulence type="fractalNoise" baseFrequency="0.85 0.95" numOctaves="1" seed="24"/>
<feColorMatrix type="matrix" values="1 0 0 0 0  1 0 0 0 0  1 0 0 0 0  0 0 0 0 1" result="b"/>
<feTurbulence type="fractalNoise" baseFrequency="0.5 0.04" numOctaves="1" seed="44"/>
<feColorMatrix type="matrix" values="1 0 0 0 0  1 0 0 0 0  1 0 0 0 0  0 0 0 0 1" result="c"/>
<feComposite in="a" in2="b" operator="arithmetic" k1="0" k2="0.85" k3="0.5" k4="-0.175" result="ab"/>
<feComposite in="ab" in2="c" operator="arithmetic" k1="0" k2="1" k3="0.3" k4="-0.15"/>
<feComponentTransfer><feFuncR type="table" tableValues="0.637 0.649 0.662 0.674 0.687 0.699 0.711 0.724 0.736 0.749 0.761 0.774 0.786 0.799 0.811 0.824 0.836 0.849 0.861 0.874 0.886 0.898 0.911 0.923 0.936 0.948 0.961 0.959 0.958 0.957 0.955 0.954 0.952"/><feFuncG type="table" tableValues="0.742 0.750 0.757 0.765 0.773 0.780 0.788 0.796 0.803 0.811 0.819 0.826 0.834 0.842 0.849 0.857 0.865 0.872 0.880 0.888 0.895 0.903 0.911 0.918 0.926 0.934 0.941 0.929 0.916 0.904 0.892 0.880 0.867"/><feFuncB type="table" tableValues="0.867 0.871 0.875 0.878 0.882 0.885 0.889 0.893 0.896 0.900 0.903 0.907 0.911 0.914 0.918 0.921 0.925 0.928 0.932 0.936 0.939 0.943 0.946 0.950 0.954 0.957 0.961 0.948 0.934 0.921 0.908 0.895 0.882"/></feComponentTransfer>
</filter>
<filter id="h3" x="0" y="0" width="100%" height="100%" color-interpolation-filters="sRGB">
<feTurbulence type="fractalNoise" baseFrequency="0.03 0.5" numOctaves="1" seed="5"/>
<feColorMatrix type="matrix" values="1 0 0 0 0  1 0 0 0 0  1 0 0 0 0  0 0 0 0 1" result="a"/>
<feTurbulence type="fractalNoise" baseFrequency="0.85 0.95" numOctaves="1" seed="25"/>
<feColorMatrix type="matrix" values="1 0 0 0 0  1 0 0 0 0  1 0 0 0 0  0 0 0 0 1" result="b"/>
<feTurbulence type="fractalNoise" baseFrequency="0.5 0.04" numOctaves="1" seed="45"/>
<feColorMatrix type="matrix" values="1 0 0 0 0  1 0 0 0 0  1 0 0 0 0  0 0 0 0 1" result="c"/>
<feComposite in="a" in2="b" operator="arithmetic" k1="0" k2="0.85" k3="0.5" k4="-0.175" result="ab"/>
<feComposite in="ab" in2="c" operator="arithmetic" k1="0" k2="1" k3="0.3" k4="-0.15"/>
<feComponentTransfer><feFuncR type="table" tableValues="0.937 0.947 0.956 0.960 0.959 0.958 0.957 0.956 0.955 0.954 0.952 0.951 0.950 0.949 0.948 0.947 0.946 0.945 0.944 0.942 0.941 0.940 0.939 0.938 0.937 0.936 0.935 0.934 0.933 0.931 0.930 0.929 0.928"/><feFuncG type="table" tableValues="0.926 0.932 0.938 0.936 0.926 0.917 0.907 0.898 0.888 0.879 0.869 0.859 0.850 0.840 0.831 0.821 0.811 0.802 0.792 0.783 0.773 0.763 0.754 0.744 0.735 0.725 0.716 0.706 0.696 0.687 0.677 0.668 0.658"/><feFuncB type="table" tableValues="0.954 0.957 0.959 0.955 0.945 0.935 0.925 0.914 0.904 0.894 0.884 0.874 0.863 0.853 0.843 0.833 0.822 0.812 0.802 0.792 0.782 0.771 0.761 0.751 0.741 0.730 0.720 0.710 0.700 0.690 0.679 0.669 0.659"/></feComponentTransfer>
</filter>
<filter id="h4" x="0" y="0" width="100%" height="100%" color-interpolation-filters="sRGB">
<feTurbulence type="fractalNoise" baseFrequency="0.03 0.5" numOctaves="1" seed="6"/>
<feColorMatrix type="matrix" values="1 0 0 0 0  1 0 0 0 0  1 0 0 0 0  0 0 0 0 1" result="a"/>
<feTurbulence type="fractalNoise" baseFrequency="0.85 0.95" numOctaves="1" seed="26"/>
<feColorMatrix type="matrix" values="1 0 0 0 0  1 0 0 0 0  1 0 0 0 0  0 0 0 0 1" result="b"/>
<feTurbulence type="fractalNoise" baseFrequency="0.5 0.04" numOctaves="1" seed="46"/>
<feColorMatrix type="matrix" values="1 0 0 0 0  1 0 0 0 0  1 0 0 0 0  0 0 0 0 1" result="c"/>
<feComposite in="a" in2="b" operator="arithmetic" k1="0" k2="0.85" k3="0.5" k4="-0.175" result="ab"/>
<feComposite in="ab" in2="c" operator="arithmetic" k1="0" k2="1" k3="0.3" k4="-0.15"/>
<feComponentTransfer><feFuncR type="table" tableValues="0.747 0.756 0.766 0.776 0.785 0.795 0.805 0.814 0.824 0.834 0.844 0.853 0.863 0.873 0.882 0.892 0.902 0.911 0.921 0.931 0.941 0.950 0.960 0.960 0.959 0.958 0.956 0.955 0.954 0.953 0.952 0.951 0.950"/><feFuncG type="table" tableValues="0.810 0.816 0.822 0.828 0.833 0.839 0.845 0.851 0.857 0.863 0.869 0.875 0.881 0.887 0.893 0.899 0.905 0.911 0.917 0.923 0.929 0.935 0.941 0.932 0.923 0.913 0.904 0.894 0.884 0.875 0.865 0.856 0.846"/><feFuncB type="table" tableValues="0.899 0.902 0.905 0.907 0.910 0.913 0.916 0.919 0.921 0.924 0.927 0.930 0.933 0.935 0.938 0.941 0.944 0.947 0.949 0.952 0.955 0.958 0.961 0.951 0.941 0.931 0.921 0.911 0.900 0.890 0.880 0.870 0.859"/></feComponentTransfer>
</filter>
<filter id="h5" x="0" y="0" width="100%" height="100%" color-interpolation-filters="sRGB">
<feTurbulence type="fractalNoise" baseFrequency="0.5 0.05" numOctaves="1" seed="7"/>
<feColorMatrix type="matrix" values="1 0 0 0 0  1 0 0 0 0  1 0 0 0 0  0 0 0 0 1" result="a"/>
<feTurbulence type="fractalNoise" baseFrequency="0.85 0.95" numOctaves="1" seed="27"/>
<feColorMatrix type="matrix" values="1 0 0 0 0  1 0 0 0 0  1 0 0 0 0  0 0 0 0 1" result="b"/>
<feTurbulence type="fractalNoise" baseFrequency="0.035 0.5" numOctaves="1" seed="47"/>
<feColorMatrix type="matrix" values="1 0 0 0 0  1 0 0 0 0  1 0 0 0 0  0 0 0 0 1" result="c"/>
<feComposite in="a" in2="b" operator="arithmetic" k1="0" k2="0.85" k3="0.5" k4="-0.175" result="ab"/>
<feComposite in="ab" in2="c" operator="arithmetic" k1="0" k2="1" k3="0.55" k4="-0.275"/>
<feComponentTransfer><feFuncR type="table" tableValues="0.720 0.735 0.750 0.765 0.781 0.796 0.811 0.826 0.842 0.857 0.872 0.887 0.902 0.918 0.933 0.948 0.960 0.959 0.957 0.955 0.954 0.952 0.950 0.948 0.947 0.945 0.943 0.941 0.940 0.938 0.936 0.934 0.933"/><feFuncG type="table" tableValues="0.793 0.802 0.812 0.821 0.831 0.840 0.849 0.859 0.868 0.877 0.887 0.896 0.905 0.915 0.924 0.933 0.939 0.924 0.908 0.893 0.878 0.863 0.848 0.833 0.818 0.803 0.788 0.773 0.758 0.743 0.728 0.713 0.697"/><feFuncB type="table" tableValues="0.891 0.896 0.900 0.904 0.909 0.913 0.918 0.922 0.926 0.931 0.935 0.940 0.944 0.948 0.953 0.957 0.958 0.942 0.926 0.910 0.894 0.878 0.862 0.846 0.830 0.813 0.797 0.781 0.765 0.749 0.733 0.717 0.701"/></feComponentTransfer>
</filter>
<filter id="h6" x="0" y="0" width="100%" height="100%" color-interpolation-filters="sRGB">
<feTurbulence type="fractalNoise" baseFrequency="0.5 0.05" numOctaves="1" seed="8"/>
<feColorMatrix type="matrix" values="1 0 0 0 0  1 0 0 0 0  1 0 0 0 0  0 0 0 0 1" result="a"/>
<feTurbulence type="fractalNoise" baseFrequency="0.85 0.95" numOctaves="1" seed="28"/>
<feColorMatrix type="matrix" values="1 0 0 0 0  1 0 0 0 0  1 0 0 0 0  0 0 0 0 1" result="b"/>
<feTurbulence type="fractalNoise" baseFrequency="0.035 0.5" numOctaves="1" seed="48"/>
<feColorMatrix type="matrix" values="1 0 0 0 0  1 0 0 0 0  1 0 0 0 0  0 0 0 0 1" result="c"/>
<feComposite in="a" in2="b" operator="arithmetic" k1="0" k2="0.85" k3="0.5" k4="-0.175" result="ab"/>
<feComposite in="ab" in2="c" operator="arithmetic" k1="0" k2="1" k3="0.55" k4="-0.275"/>
<feComponentTransfer><feFuncR type="table" tableValues="0.779 0.792 0.806 0.820 0.834 0.848 0.862 0.875 0.889 0.903 0.917 0.931 0.945 0.959 0.959 0.958 0.956 0.955 0.953 0.952 0.950 0.948 0.947 0.945 0.944 0.942 0.940 0.939 0.937 0.936 0.934 0.933 0.931"/><feFuncG type="table" tableValues="0.829 0.838 0.846 0.855 0.863 0.872 0.880 0.889 0.897 0.906 0.914 0.923 0.931 0.940 0.930 0.916 0.902 0.889 0.875 0.861 0.847 0.834 0.820 0.806 0.793 0.779 0.765 0.752 0.738 0.724 0.710 0.697 0.683"/><feFuncB type="table" tableValues="0.908 0.912 0.916 0.920 0.924 0.928 0.932 0.936 0.940 0.944 0.948 0.952 0.956 0.960 0.948 0.934 0.919 0.905 0.890 0.875 0.861 0.846 0.832 0.817 0.802 0.788 0.773 0.759 0.744 0.729 0.715 0.700 0.686"/></feComponentTransfer>
</filter>
</defs>
<rect x="230.00" y="22.80" width="19.20" height="72.80" fill="#fff" filter="url(#h1)"/>
<rect x="230.00" y="95.60" width="19.20" height="79.20" fill="#fff" filter="url(#h2)"/>
<rect x="230.00" y="174.80" width="19.20" height="3.00" fill="#fff" filter="url(#h3)"/>
<rect x="230.00" y="177.80" width="19.20" height="5.80" fill="#fff" filter="url(#h4)"/>
<rect x="249.20" y="22.80" width="144.60" height="72.80" fill="#fff" filter="url(#h5)"/>
<rect x="249.20" y="95.60" width="144.60" height="88.00" fill="#fff" filter="url(#h6)"/>
<rect x="230.0" y="18" width="19.20" height="3.8" fill="#3fb8c0"/>
<rect x="249.2" y="18" width="144.60" height="3.8" fill="#ef8a83"/>
<rect x="227.1" y="22.8" width="2.8" height="160.80" fill="#000"/>
<text x="396.40" y="26.40" font-size="9.6" font-weight="bold" fill="#000" stroke="#000" stroke-width="0.16">Type</text>
<rect x="397.6" y="30.8" width="9.7" height="145.4" fill="url(#hmbar)"/>
<text x="411.70" y="42.15" font-size="9.7" fill="#000" stroke="#000" stroke-width="0.16">10</text>
<text x="411.70" y="74.65" font-size="9.7" fill="#000" stroke="#000" stroke-width="0.16">5</text>
<text x="411.70" y="107.15" font-size="9.7" fill="#000" stroke="#000" stroke-width="0.16">0</text>
<text x="411.70" y="139.65" font-size="9.7" fill="#000" stroke="#000" stroke-width="0.16">−5</text>
<text x="411.70" y="172.15" font-size="9.7" fill="#000" stroke="#000" stroke-width="0.16">−10</text>
<text x="432.00" y="37.70" font-size="9.6" font-weight="bold" fill="#000" stroke="#000" stroke-width="0.16">Type</text>
<rect x="431" y="41.3" width="14" height="14" fill="#3fb8c0"/>
<rect x="431" y="55.3" width="14" height="13.5" fill="#ef8a83"/>
<text x="448.20" y="51.70" font-size="9.65" fill="#000" stroke="#000" stroke-width="0.16">Control</text>
<text x="448.20" y="65.50" font-size="9.65" fill="#000" stroke="#000" stroke-width="0.16">RPL</text>
</g>
<g id="venn">
<ellipse cx="543" cy="110.2" rx="67.5" ry="73" fill="#dd5d40"/>
<ellipse cx="618.5" cy="110.2" rx="67.5" ry="73" fill="#67b4cf"/>
<clipPath id="vc"><ellipse cx="543" cy="110.2" rx="67.5" ry="73"/></clipPath>
<ellipse cx="618.5" cy="110.2" rx="67.5" ry="73" fill="#96a097" clip-path="url(#vc)"/>
<text x="505.70" y="30.20" font-size="9.5" text-anchor="middle" fill="#e8906f" stroke="#e8906f" stroke-width="0.16">DEGs</text>
<text x="643.20" y="30.20" font-size="9.5" text-anchor="middle" fill="#6bb6d3" stroke="#6bb6d3" stroke-width="0.16">OXPHOS</text>
<text x="520.40" y="111.40" font-size="9.7" text-anchor="middle" font-weight="bold" fill="#000" stroke="#000" stroke-width="0.16">8230</text>
<text x="578.30" y="111.40" font-size="9.7" text-anchor="middle" font-weight="bold" fill="#000" stroke="#000" stroke-width="0.16">50</text>
<text x="633.60" y="111.40" font-size="9.7" text-anchor="middle" font-weight="bold" fill="#000" stroke="#000" stroke-width="0.16">180</text>
</g>
<g id="go">
<path d="M452.66 240.8V314.6M477.59 240.8V314.6M502.51 240.8V314.6M527.44 240.8V314.6M552.36 240.8V314.6" stroke="#f0f0f0" stroke-width="0.4" fill="none"/>
<path d="M440.20 240.8V314.6M465.12 240.8V314.6M490.05 240.8V314.6M514.98 240.8V314.6M539.90 240.8V314.6M564.83 240.8V314.6M434.1 246.51H565.9M434.1 255.52H565.9M434.1 264.53H565.9M434.1 273.54H565.9M434.1 282.56H565.9M434.1 291.57H565.9M434.1 300.58H565.9M434.1 309.59H565.9" stroke="#ebebeb" stroke-width="0.6" fill="none"/>
<rect x="440.2" y="242.30" width="89.73" height="8.41" fill="#da2820"/>
<rect x="440.2" y="251.31" width="99.70" height="8.41" fill="#da2820"/>
<rect x="440.2" y="260.32" width="94.72" height="8.41" fill="#da2820"/>
<rect x="440.2" y="269.34" width="104.69" height="8.41" fill="#da2820"/>
<rect x="440.2" y="278.35" width="84.75" height="8.41" fill="#da2820"/>
<rect x="440.2" y="287.36" width="99.70" height="8.41" fill="#da2820"/>
<rect x="440.2" y="296.38" width="69.79" height="8.41" fill="#da2820"/>
<rect x="440.2" y="305.39" width="69.79" height="8.41" fill="#da2820"/>
<rect x="565.9" y="240.8" width="11.40" height="73.80" fill="#dedede" stroke="#8f8f8f" stroke-width="1"/>
<rect x="434.1" y="240.8" width="131.80" height="73.80" fill="none" stroke="#8f8f8f" stroke-width="1"/>
<text x="571.80" y="272.70" font-size="5.9" text-anchor="middle" fill="#1a1a1a" transform="rotate(90 571.80 272.70)" dy="2.1">BP</text>
<path d="M434.1 246.51h-1.4M434.1 255.52h-1.4M434.1 264.53h-1.4M434.1 273.54h-1.4M434.1 282.56h-1.4M434.1 291.57h-1.4M434.1 300.58h-1.4M434.1 309.59h-1.4" stroke="#333" stroke-width="0.5" fill="none"/>
<path d="M452.66 316.7V390.6M477.59 316.7V390.6M502.51 316.7V390.6M527.44 316.7V390.6M552.36 316.7V390.6" stroke="#f0f0f0" stroke-width="0.4" fill="none"/>
<path d="M440.20 316.7V390.6M465.12 316.7V390.6M490.05 316.7V390.6M514.98 316.7V390.6M539.90 316.7V390.6M564.83 316.7V390.6M434.1 322.41H565.9M434.1 331.44H565.9M434.1 340.46H565.9M434.1 349.49H565.9M434.1 358.51H565.9M434.1 367.54H565.9M434.1 376.56H565.9M434.1 385.59H565.9" stroke="#ebebeb" stroke-width="0.6" fill="none"/>
<rect x="440.2" y="318.20" width="124.63" height="8.43" fill="#da2820"/>
<rect x="440.2" y="327.22" width="79.76" height="8.43" fill="#da2820"/>
<rect x="440.2" y="336.25" width="79.76" height="8.43" fill="#da2820"/>
<rect x="440.2" y="345.27" width="74.78" height="8.43" fill="#da2820"/>
<rect x="440.2" y="354.30" width="79.76" height="8.43" fill="#da2820"/>
<rect x="440.2" y="363.32" width="84.75" height="8.43" fill="#da2820"/>
<rect x="440.2" y="372.35" width="59.82" height="8.43" fill="#da2820"/>
<rect x="440.2" y="381.38" width="39.88" height="8.43" fill="#da2820"/>
<rect x="565.9" y="316.7" width="11.40" height="73.90" fill="#dedede" stroke="#8f8f8f" stroke-width="1"/>
<rect x="434.1" y="316.7" width="131.80" height="73.90" fill="none" stroke="#8f8f8f" stroke-width="1"/>
<text x="571.80" y="348.65" font-size="5.9" text-anchor="middle" fill="#1a1a1a" transform="rotate(90 571.80 348.65)" dy="2.1">CC</text>
<path d="M434.1 322.41h-1.4M434.1 331.44h-1.4M434.1 340.46h-1.4M434.1 349.49h-1.4M434.1 358.51h-1.4M434.1 367.54h-1.4M434.1 376.56h-1.4M434.1 385.59h-1.4" stroke="#333" stroke-width="0.5" fill="none"/>
<path d="M452.66 392.6V466.8M477.59 392.6V466.8M502.51 392.6V466.8M527.44 392.6V466.8M552.36 392.6V466.8" stroke="#f0f0f0" stroke-width="0.4" fill="none"/>
<path d="M440.20 392.6V466.8M465.12 392.6V466.8M490.05 392.6V466.8M514.98 392.6V466.8M539.90 392.6V466.8M564.83 392.6V466.8M434.1 398.33H565.9M434.1 407.39H565.9M434.1 416.46H565.9M434.1 425.52H565.9M434.1 434.58H565.9M434.1 443.64H565.9M434.1 452.71H565.9M434.1 461.77H565.9" stroke="#ebebeb" stroke-width="0.6" fill="none"/>
<rect x="440.2" y="394.10" width="74.78" height="8.46" fill="#da2820"/>
<rect x="440.2" y="403.16" width="24.93" height="8.46" fill="#cb1166"/>
<rect x="440.2" y="412.23" width="24.93" height="8.46" fill="#cb1166"/>
<rect x="440.2" y="421.29" width="24.93" height="8.46" fill="#cb1166"/>
<rect x="440.2" y="430.35" width="24.93" height="8.46" fill="#cb1166"/>
<rect x="440.2" y="439.41" width="24.93" height="8.46" fill="#2b4fa8"/>
<rect x="440.2" y="448.48" width="19.94" height="8.46" fill="#2b4fa8"/>
<rect x="440.2" y="457.54" width="19.94" height="8.46" fill="#2b4fa8"/>
<rect x="565.9" y="392.6" width="11.40" height="74.20" fill="#dedede" stroke="#8f8f8f" stroke-width="1"/>
<rect x="434.1" y="392.6" width="131.80" height="74.20" fill="none" stroke="#8f8f8f" stroke-width="1"/>
<text x="571.80" y="424.70" font-size="5.9" text-anchor="middle" fill="#1a1a1a" transform="rotate(90 571.80 424.70)" dy="2.1">MF</text>
<path d="M434.1 398.33h-1.4M434.1 407.39h-1.4M434.1 416.46h-1.4M434.1 425.52h-1.4M434.1 434.58h-1.4M434.1 443.64h-1.4M434.1 452.71h-1.4M434.1 461.77h-1.4" stroke="#333" stroke-width="0.5" fill="none"/>
<text x="439.20" y="478.50" font-size="10.4" text-anchor="middle" fill="#1a1a1a" stroke="#1a1a1a" stroke-width="0.16">0</text>
<text x="463.00" y="478.50" font-size="10.4" text-anchor="middle" fill="#1a1a1a" stroke="#1a1a1a" stroke-width="0.16">5</text>
<text x="489.50" y="478.50" font-size="10.4" text-anchor="middle" fill="#1a1a1a" stroke="#1a1a1a" stroke-width="0.16">10</text>
<text x="515.00" y="478.50" font-size="10.4" text-anchor="middle" fill="#1a1a1a" stroke="#1a1a1a" stroke-width="0.16">15</text>
<text x="539.30" y="478.50" font-size="10.4" text-anchor="middle" fill="#1a1a1a" stroke="#1a1a1a" stroke-width="0.16">20</text>
<text x="564.80" y="478.50" font-size="10.4" text-anchor="middle" fill="#1a1a1a" stroke="#1a1a1a" stroke-width="0.16">25</text>
<text x="293.70" y="247.55" font-size="9.03" fill="#000" stroke="#000" stroke-width="0.16">respiratory electron <tspan dx="-1.26">transport chain</tspan></text>
<text x="359.40" y="257.55" font-size="8.81" fill="#000" stroke="#000" stroke-width="0.16">cellular respiration</text>
<text x="339.00" y="266.65" font-size="8.87" fill="#000" stroke="#000" stroke-width="0.16">electron transport chain</text>
<text x="222.40" y="276.15" font-size="8.99" fill="#000" stroke="#000" stroke-width="0.16">energy derivation by <tspan dx="-1.26">oxidation of organic compounds</tspan></text>
<text x="330.20" y="285.55" font-size="8.87" fill="#000" stroke="#000" stroke-width="0.16">oxidative phosphorylation</text>
<text x="339.90" y="294.45" font-size="8.91" fill="#000" stroke="#000" stroke-width="0.16">ATP metabolic process</text>
<text x="212.40" y="303.25" font-size="9.05" fill="#000" stroke="#000" stroke-width="0.16">mitochondrial ATP synthesis <tspan dx="-1.27">coupled electron transport</tspan></text>
<text x="268.30" y="313.85" font-size="9.04" fill="#000" stroke="#000" stroke-width="0.16">ATP synthesis coupled <tspan dx="-1.27">electron transport</tspan></text>
<text x="308.10" y="324.65" font-size="9.09" fill="#000" stroke="#000" stroke-width="0.16">mitochondrial inner membrane</text>
<text x="328.90" y="332.95" font-size="8.95" fill="#000" stroke="#000" stroke-width="0.16">respiratory chain complex</text>
<text x="380.20" y="342.55" font-size="9.21" fill="#000" stroke="#000" stroke-width="0.16">respirasome</text>
<text x="320.40" y="350.65" font-size="9.42" fill="#000" stroke="#000" stroke-width="0.16">mitochondrial respirasome</text>
<text x="240.40" y="361.25" font-size="9.15" fill="#000" stroke="#000" stroke-width="0.16">inner mitochondrial membrane protein complex</text>
<text x="262.30" y="370.15" font-size="9.16" fill="#000" stroke="#000" stroke-width="0.16">mitochondrial protein−containing complex</text>
<text x="333.80" y="380.35" font-size="9.02" fill="#000" stroke="#000" stroke-width="0.16">oxidoreductase complex</text>
<text x="347.50" y="389.25" font-size="9.12" fill="#000" stroke="#000" stroke-width="0.16">cytochrome complex</text>
<text x="335.30" y="399.25" font-size="9.06" fill="#000" stroke="#000" stroke-width="0.16">electron transfer activity</text>
<text x="307.50" y="407.95" font-size="9.26" fill="#000" stroke="#000" stroke-width="0.16">NADH dehydrogenase activity</text>
<text x="258.80" y="417.45" font-size="9.01" fill="#000" stroke="#000" stroke-width="0.16">NADH dehydrogenase (ubiquinone) activity</text>
<text x="271.10" y="426.95" font-size="9.04" fill="#000" stroke="#000" stroke-width="0.16">NADH dehydrogenase (quinone) <tspan dx="-1.27">activity</tspan></text>
<text x="257.00" y="436.55" font-size="9.08" fill="#000" stroke="#000" stroke-width="0.16">NAD(P)H dehydrogenase (quinone) activity</text>
<text x="82.30" y="445.75" font-size="9.26" fill="#000" stroke="#000" stroke-width="0.16">oxidoreductase activity, acting on NAD(P)H, <tspan dx="-1.30">quinone or similar compound as acceptor</tspan></text>
<text x="310.20" y="454.45" font-size="9.08" fill="#000" stroke="#000" stroke-width="0.16">cytochrome−c oxidase activity</text>
<text x="273.70" y="464.95" font-size="9.17" fill="#000" stroke="#000" stroke-width="0.16">heme−copper terminal oxidase <tspan dx="1.38">activity</tspan></text>
<text x="579.90" y="330.20" font-size="9.91" fill="#000" stroke="#000" stroke-width="0.16">p.adjust</text>
<rect x="581" y="335.7" width="9.9" height="46.8" fill="url(#padj)"/>
<text x="594.10" y="350.30" font-size="10.13" fill="#000" stroke="#000" stroke-width="0.16">4.0e−06</text>
<path d="M581 347.3h2M590.9 347.3h-2" stroke="#fff" stroke-width="0.5"/>
<text x="594.10" y="364.20" font-size="10.13" fill="#000" stroke="#000" stroke-width="0.16">8.0e−06</text>
<path d="M581 359.3h2M590.9 359.3h-2" stroke="#fff" stroke-width="0.5"/>
<text x="594.10" y="378.20" font-size="10.13" fill="#000" stroke="#000" stroke-width="0.16">1.2e−05</text>
<path d="M581 371.4h2M590.9 371.4h-2" stroke="#fff" stroke-width="0.5"/>
</g>
<g id="kegg">
<path d="M406.0 507.5V732.8M453.5 507.5V732.8M500.4 507.5V732.8M547.9 507.5V732.8" stroke="#ececec" stroke-width="0.6" fill="none"/>
<path d="M429.4 507.5V732.8M477.6 507.5V732.8M524.5 507.5V732.8M571.5 507.5V732.8M384.4 521.20H576.6M384.4 543.29H576.6M384.4 565.38H576.6M384.4 587.47H576.6M384.4 609.56H576.6M384.4 631.65H576.6M384.4 653.74H576.6M384.4 675.83H576.6M384.4 697.92H576.6M384.4 720.01H576.6" stroke="#e4e4e4" stroke-width="0.8" fill="none"/>
<rect x="384.7" y="507.8" width="191.80" height="224.90" fill="none" stroke="#6a6a6a" stroke-width="1"/>
<ellipse cx="567.6" cy="521.20" rx="3.9" ry="3.45" fill="#df2320"/>
<ellipse cx="498.0" cy="543.29" rx="3.3" ry="3.05" fill="#df2320"/>
<ellipse cx="498.0" cy="565.38" rx="3.3" ry="3.05" fill="#df2320"/>
<ellipse cx="463.1" cy="587.47" rx="3.0" ry="2.65" fill="#df2320"/>
<ellipse cx="428.4" cy="609.56" rx="2.75" ry="2.3" fill="#df2320"/>
<ellipse cx="428.4" cy="631.65" rx="2.75" ry="2.3" fill="#df2320"/>
<ellipse cx="428.4" cy="653.74" rx="2.75" ry="2.3" fill="#de2028"/>
<ellipse cx="428.4" cy="675.83" rx="2.75" ry="2.3" fill="#de2028"/>
<ellipse cx="428.4" cy="697.92" rx="2.75" ry="2.3" fill="#2347a8"/>
<ellipse cx="393.4" cy="720.01" rx="1.5" ry="1.45" fill="#df2320"/>
<path d="M384.4 521.20h-1.5M384.4 543.29h-1.5M384.4 565.38h-1.5M384.4 587.47h-1.5M384.4 609.56h-1.5M384.4 631.65h-1.5M384.4 653.74h-1.5M384.4 675.83h-1.5M384.4 697.92h-1.5M384.4 720.01h-1.5" stroke="#333" stroke-width="0.5" fill="none"/>
<text x="177.10" y="524.95" font-size="8.99" fill="#000" stroke="#000" stroke-width="0.16">Pathways of neurodegeneration − multiple <tspan dx="-1.26">diseases</tspan></text>
<text x="176.40" y="545.45" font-size="8.95" fill="#000" stroke="#000" stroke-width="0.16">Chemical carcinogenesis − <tspan dx="-1.25">reactive oxygen species</tspan></text>
<text x="309.70" y="566.95" font-size="8.84" fill="#000" stroke="#000" stroke-width="0.16">Alzheimer disease</text>
<text x="282.10" y="589.35" font-size="9.03" fill="#000" stroke="#000" stroke-width="0.16">Diabetic cardiomyopathy</text>
<text x="251.90" y="612.15" font-size="8.93" fill="#000" stroke="#000" stroke-width="0.16">Non−alcoholic fatty liver <tspan dx="1.34">disease</tspan></text>
<text x="318.70" y="634.55" font-size="9.04" fill="#000" stroke="#000" stroke-width="0.16">Thermogenesis</text>
<text x="307.80" y="655.55" font-size="9.07" fill="#000" stroke="#000" stroke-width="0.16">Parkinson disease</text>
<text x="326.70" y="677.25" font-size="8.96" fill="#000" stroke="#000" stroke-width="0.16">Prion disease</text>
<text x="306.50" y="698.35" font-size="8.81" fill="#000" stroke="#000" stroke-width="0.16">Huntington disease</text>
<text x="276.00" y="721.05" font-size="9.12" fill="#000" stroke="#000" stroke-width="0.16">Oxidative phosphorylation</text>
<text x="433.40" y="742.90" font-size="8.8" text-anchor="middle" fill="#1a1a1a" stroke="#1a1a1a" stroke-width="0.16">0.56</text>
<text x="474.40" y="742.90" font-size="8.8" text-anchor="middle" fill="#1a1a1a" stroke="#1a1a1a" stroke-width="0.16">0.60</text>
<text x="523.50" y="742.90" font-size="8.8" text-anchor="middle" fill="#1a1a1a" stroke="#1a1a1a" stroke-width="0.16">0.64</text>
<text x="567.50" y="742.90" font-size="8.8" text-anchor="middle" fill="#1a1a1a" stroke="#1a1a1a" stroke-width="0.16">0.68</text>
<text x="499.00" y="754.60" font-size="9" text-anchor="middle" fill="#000" stroke="#000" stroke-width="0.16">GeneRatio</text>
<text x="585.60" y="550.30" font-size="9" fill="#000" stroke="#000" stroke-width="0.16">Count</text>
<circle cx="592.5" cy="559.4" r="2.4" fill="#000"/>
<text x="602.60" y="561.20" font-size="8.6" fill="#000" stroke="#000" stroke-width="0.16">18</text>
<circle cx="592.5" cy="569.6" r="3.6" fill="#000"/>
<text x="602.60" y="571.70" font-size="8.6" fill="#000" stroke="#000" stroke-width="0.16">19</text>
<circle cx="592.5" cy="580.1" r="4.3" fill="#000"/>
<text x="602.60" y="582.20" font-size="8.6" fill="#000" stroke="#000" stroke-width="0.16">20</text>
<circle cx="592.5" cy="591.0" r="4.7" fill="#000"/>
<text x="602.60" y="593.20" font-size="8.6" fill="#000" stroke="#000" stroke-width="0.16">21</text>
<circle cx="592.5" cy="602.9" r="5.1" fill="#000"/>
<text x="602.60" y="605.00" font-size="8.6" fill="#000" stroke="#000" stroke-width="0.16">22</text>
<circle cx="592.5" cy="616.4" r="5.5" fill="#000"/>
<text x="602.60" y="618.10" font-size="8.6" fill="#000" stroke="#000" stroke-width="0.16">23</text>
<text x="585.60" y="638.30" font-size="9" fill="#000" stroke="#000" stroke-width="0.16">p.adjust</text>
<rect x="580.4" y="643.7" width="10.5" height="52.9" fill="url(#padj)"/>
<text x="593.60" y="647.40" font-size="9" fill="#000" stroke="#000" stroke-width="0.16">6.924823e−23</text>
<path d="M586 644.2h3" stroke="#fff" stroke-width="0.5" stroke-dasharray="1 0.6"/>
<text x="593.60" y="660.30" font-size="9" fill="#000" stroke="#000" stroke-width="0.16">2.294660e−18</text>
<path d="M586 657.1h3" stroke="#fff" stroke-width="0.5" stroke-dasharray="1 0.6"/>
<text x="593.60" y="673.10" font-size="9" fill="#000" stroke="#000" stroke-width="0.16">4.589250e−18</text>
<path d="M586 669.9h3" stroke="#fff" stroke-width="0.5" stroke-dasharray="1 0.6"/>
<text x="593.60" y="685.70" font-size="9" fill="#000" stroke="#000" stroke-width="0.16">6.883840e−18</text>
<path d="M586 682.5h3" stroke="#fff" stroke-width="0.5" stroke-dasharray="1 0.6"/>
<text x="593.60" y="698.90" font-size="9" fill="#000" stroke="#000" stroke-width="0.16">9.178431e−18</text>
<path d="M586 695.7h3" stroke="#fff" stroke-width="0.5" stroke-dasharray="1 0.6"/>
</g>
</svg>
</body></html>
